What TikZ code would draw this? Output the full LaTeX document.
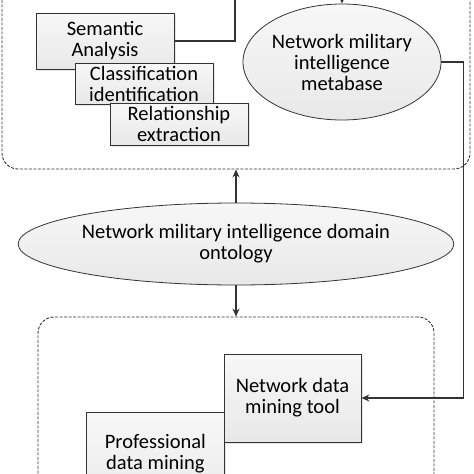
\documentclass[tikz,border=0pt]{standalone}
\usepackage{fontspec}
\setmainfont{Carlito}
\usepackage{tikz}
\usetikzlibrary{shapes.geometric,shadows,arrows.meta}
\colorlet{boxgray}{gray!18}
\colorlet{linegray}{black!80}
\colorlet{framegray}{black!80}

\begin{document}
\begin{tikzpicture}[x=1pt,y=-1pt,
        box/.style={draw=linegray, line width=0.8pt, rectangle, top color=gray!6, bottom color=boxgray,
            drop shadow={opacity=0.2, shadow xshift=1.5pt, shadow yshift=-1.5pt},
            align=center, inner sep=2pt},
        oval/.style={draw=linegray, line width=0.8pt, ellipse, top color=gray!6, bottom color=boxgray,
            align=center, inner sep=0pt},
        frame/.style={draw=framegray, line width=0.9pt, rounded corners=16pt, dash pattern=on 3pt off 1.5pt},
        link/.style={draw=linegray, line width=1.2pt},
        arr/.style={link, -{Stealth[length=8pt, width=7pt]}}]
        \path[use as bounding box, clip] (0,0) rectangle (474,474);
        \fontsize{20.5}{21}\selectfont
        % dashed frames
        \node[frame, minimum width=468pt, minimum height=210pt] (upper) at (236,64) {};
        \node[frame, minimum width=396pt, minimum height=210pt] (lower) at (236,422) {};
        % upper frame content
        \node[box, minimum width=138pt, minimum height=56pt] (sem) at (105,41) {Semantic\\Analysis};
        \node[box, minimum width=138pt, minimum height=41pt] (cls) at (144,83.5) {Classification\\identification};
        \node[box, minimum width=138pt, minimum height=42pt] (rel) at (179,124) {Relationship\\extraction};
        \node[oval, minimum width=188pt, minimum height=116pt] (meta) at (342,62) {Network military\\intelligence\\metabase};
        % ontology
        \node[oval, minimum width=420pt, minimum height=82pt] (onto) at (236,244) {Network military intelligence domain\\ontology};
        % lower frame content
        \node[box, minimum width=138pt, minimum height=104pt, anchor=north west] (prof) at (86,412) {Professional\\data mining\\algorithm};
        \node[box, minimum width=137pt, minimum height=88pt] (tool) at (292.5,398) {Network data\\mining tool};
        % connectors
        \coordinate (semin) at (235,-10);
        \coordinate (metain) at (342,-10);
        \draw[link] (semin) |- (sem.east);
        \draw[arr] (metain) -- (meta.north);
        \draw[arr] (meta.east) -- ++(22,0) |- (tool.east);
        \draw[arr] (onto.north) -- (onto.north |- upper.south);
        \draw[arr] (onto.south) -- (onto.south |- lower.north);
\end{tikzpicture}
\end{document}
